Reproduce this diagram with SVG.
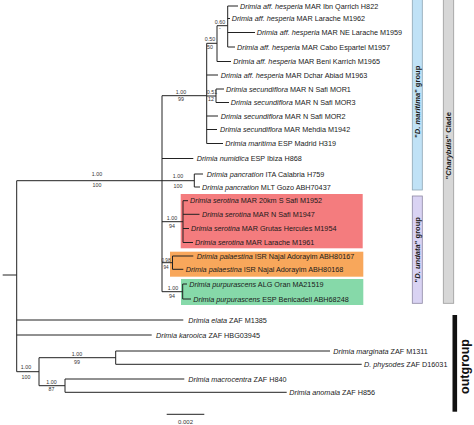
<svg xmlns="http://www.w3.org/2000/svg" width="474" height="425" viewBox="0 0 474 425">
<defs>
<style>
.br{stroke:#222;stroke-width:1;fill:none}
.t{font-family:"Liberation Sans",Arial,sans-serif;font-size:7.25px;fill:#1a1a1a}
.i{font-style:italic}
.s{font-family:"Liberation Sans",Arial,sans-serif;font-size:5.3px;fill:#333;text-anchor:middle}
.bt{font-family:"Liberation Sans",Arial,sans-serif;font-size:7.6px;font-weight:bold;fill:#1a1a1a;text-anchor:middle}
</style>
</defs>
<rect width="474" height="425" fill="#fff"/>
<g id="highlights">
<rect x="180.7" y="194" width="182" height="54.3" fill="#f47c7e"/>
<rect x="170" y="251.7" width="193.3" height="25" fill="#f8a75b"/>
<rect x="181" y="279" width="182.3" height="26" fill="#86d9a9"/>
</g>
<g id="connectors">
<path class="br" d="M2.7 275H16.7M16.7 180.7V371.7M16.7 180.7H194.3"/>
<path class="br" d="M162 95.7V291.7M162 95.7H206.7M206.7 43.3V143.5"/>
<path class="br" d="M206.7 43.3H217M217 25.7V61.5M217 25.7H227.7M227.7 6V47"/>
<path class="br" d="M227.7 6H238M227.7 18.5H230M227.7 32.5H255M227.7 47H235M217 61.5H231"/>
<path class="br" d="M206.7 75H218M206.7 96H216M216 89V102.5M216 89H224M216 102.5H229M206.7 116H218M206.7 129.5H217M206.7 143.5H223"/>
<path class="br" d="M162 158.5H193.3M194.3 174V187M194.3 174H203M194.3 187H200"/>
<path class="br" d="M162 221.7H183M183 200.7V242.5M183 200.7H188M183 214.3H199.5M183 228.5H189M183 242.5H193"/>
<path class="br" d="M162 262.7H172.5M172.5 256V269.3M172.5 256H193.3M172.5 269.3H183.3"/>
<path class="br" d="M162 291.7H182.7M182.7 284V299M182.7 284H187M182.7 299H191"/>
<path class="br" d="M16.7 320H183.3M16.7 335H151.7M16.7 371.7H39M39 357.7V385.7M39 357.7H115.7M115.7 351V364.3M115.7 351H330M115.7 364.3H361.7M39 385.7H65M65 379V392.3M65 379H184.3M65 392.3H286.7"/>
</g>
<g id="support">
<text class="s" x="97" y="176.4">1.00</text><text class="s" x="97" y="187">100</text>
<text class="s" x="181" y="93.7">1.00</text><text class="s" x="181" y="101">99</text>
<text class="s" x="210" y="41.3">0.50</text><text class="s" x="210" y="49.3">50</text>
<text class="s" x="220" y="24.2">0.60</text><text class="s" x="220" y="30.3">-</text>
<text class="s" x="212" y="93.7">0.51</text><text class="s" x="211" y="101">12</text>
<text class="s" x="178" y="177.5">1.00</text><text class="s" x="178" y="188">100</text>
<text class="s" x="172" y="219.7">1.00</text><text class="s" x="172" y="228">94</text>
<text class="s" x="166" y="262" style="font-size:4.6px">0.98</text><text class="s" x="166" y="268.7" style="font-size:4.6px">94</text>
<text class="s" x="173" y="290.3">1.00</text><text class="s" x="172" y="298">94</text>
<text class="s" x="26" y="369.3">1.00</text><text class="s" x="26" y="379.3">100</text>
<text class="s" x="77" y="356">1.00</text><text class="s" x="77" y="363.7">99</text>
<text class="s" x="51.5" y="384">1.00</text><text class="s" x="51.5" y="391.3">87</text>
</g>
<g id="taxa">
<g id="t1"><text class="t" x="240" y="8.7"><tspan class="i">Drimia aff. hesperia</tspan> MAR Ibn Qarrich H822</text></g>
<g id="t2"><text class="t" x="231.7" y="21.2"><tspan class="i">Drimia aff. hesperia</tspan> MAR Larache M1962</text></g>
<g id="t3"><text class="t" x="256.7" y="35.2"><tspan class="i">Drimia aff. hesperia</tspan> MAR NE Larache M1959</text></g>
<g id="t4"><text class="t" x="237" y="49.7"><tspan class="i">Drimia aff. hesperia</tspan> MAR Cabo Espartel M1957</text></g>
<g id="t5"><text class="t" x="233.3" y="64.2"><tspan class="i">Drimia aff. hesperia</tspan> MAR Beni Karrich M1965</text></g>
<g id="t6"><text class="t" x="220.7" y="77.7"><tspan class="i">Drimia aff. hesperia</tspan> MAR Dchar Abiad M1963</text></g>
<g id="t7"><text class="t" x="226" y="91.7"><tspan class="i">Drimia secundiflora</tspan> MAR N Safi MOR1</text></g>
<g id="t8"><text class="t" x="230.7" y="105.2"><tspan class="i">Drimia secundiflora</tspan> MAR N Safi MOR3</text></g>
<g id="t9"><text class="t" x="220.7" y="118.7"><tspan class="i">Drimia secundiflora</tspan> MAR N Safi MOR2</text></g>
<g id="t10"><text class="t" x="220" y="132.2"><tspan class="i">Drimia secundiflora</tspan> MAR Mehdia M1942</text></g>
<g id="t11"><text class="t" x="225.3" y="146.2"><tspan class="i">Drimia maritima</tspan> ESP Madrid H319</text></g>
<g id="t12"><text class="t" x="196.7" y="161.2"><tspan class="i">Drimia numidica</tspan> ESP Ibiza H868</text></g>
<g id="t13"><text class="t" x="206.7" y="176.7"><tspan class="i">Drimia pancration</tspan> ITA Calabria H759</text></g>
<g id="t14"><text class="t" x="202" y="189.7"><tspan class="i">Drimia pancration</tspan> MLT Gozo ABH70437</text></g>
<g id="t15"><text class="t" x="190" y="203.4"><tspan class="i">Drimia serotina</tspan> MAR 20km S Safi M1952</text></g>
<g id="t16"><text class="t" x="202" y="217"><tspan class="i">Drimia serotina</tspan> MAR N Safi M1947</text></g>
<g id="t17"><text class="t" x="191" y="231.2"><tspan class="i">Drimia serotina</tspan> MAR Grutas Hercules M1954</text></g>
<g id="t18"><text class="t" x="195" y="245.2"><tspan class="i">Drimia serotina</tspan> MAR Larache M1961</text></g>
<g id="t19"><text class="t" x="196.7" y="258.7"><tspan class="i">Drimia palaestina</tspan> ISR Najal Adorayim ABH80167</text></g>
<g id="t20"><text class="t" x="185.7" y="272"><tspan class="i">Drimia palaestina</tspan> ISR Najal Adorayim ABH80168</text></g>
<g id="t21"><text class="t" x="189.3" y="286.7"><tspan class="i">Drimia purpurascens</tspan> ALG Oran MA21519</text></g>
<g id="t22"><text class="t" x="193.3" y="301.7"><tspan class="i">Drimia purpurascens</tspan> ESP Benicadell ABH68248</text></g>
<g id="t23"><text class="t" x="188.3" y="322.7"><tspan class="i">Drimia elata</tspan> ZAF M1385</text></g>
<g id="t24"><text class="t" x="156" y="337.7"><tspan class="i">Drimia karooica</tspan> ZAF HBG03945</text></g>
<g id="t25"><text class="t" x="333.3" y="353.7"><tspan class="i">Drimia marginata</tspan> ZAF M1311</text></g>
<g id="t26"><text class="t" x="364" y="367.2"><tspan class="i">D. physodes</tspan> ZAF D16031</text></g>
<g id="t27"><text class="t" x="188.3" y="381.7"><tspan class="i">Drimia macrocentra</tspan> ZAF H840</text></g>
<g id="t28"><text class="t" x="289.3" y="395"><tspan class="i">Drimia anomala</tspan> ZAF H856</text></g>
</g>
<g id="bars">
<g id="maritima-group"><rect x="412.3" y="-2" width="10" height="192" fill="#c0e2f6" stroke="#8ea6b4" stroke-width="0.8"/>
<text class="bt" x="417.3" y="101.7" dy="0.35em" transform="rotate(-90 417.3 101.7)">"<tspan font-style="italic">D. maritima</tspan>" group</text></g>
<g id="undata-group"><rect x="412.3" y="196" width="10" height="107.3" fill="#d9d3f3" stroke="#8e88a4" stroke-width="0.8"/>
<text class="bt" x="417.3" y="249.7" dy="0.35em" transform="rotate(-90 417.3 249.7)">"<tspan font-style="italic">D. undata</tspan>" group</text></g>
<g id="charybdis-clade"><rect x="443.3" y="-2" width="10.4" height="305.3" fill="#d7d7d7" stroke="#9a9a9a" stroke-width="0.8"/>
<text class="bt" x="448.5" y="145.7" dy="0.35em" transform="rotate(-90 448.5 145.7)">"<tspan font-style="italic">Charybdis</tspan>" Clade</text></g>
<g id="outgroup"><rect x="452.5" y="315" width="4.6" height="96.7" fill="#111"/>
<text x="464.5" y="366.5" dy="0.35em" transform="rotate(-90 464.5 366.5)" style="font-family:'Liberation Sans',Arial,sans-serif;font-size:12.5px;font-weight:bold;fill:#111;text-anchor:middle">outgroup</text></g>
</g>
<g id="scale">
<path class="br" d="M166.7 414.3H204.3"/>
<text class="s" x="185.5" y="424" style="font-size:6px">0.002</text>
</g>
</svg>
